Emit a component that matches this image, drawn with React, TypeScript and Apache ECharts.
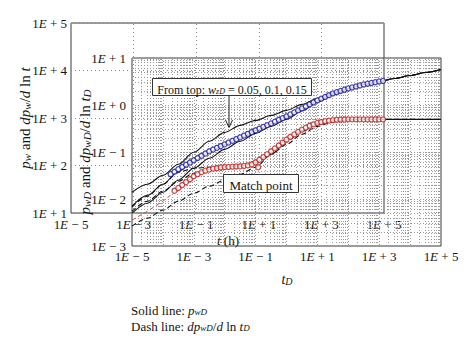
import React, { useEffect, useRef } from 'react';
import * as echarts from 'echarts';

// ---------- data (dimensionless type curves, inner axes) ----------
const TD_CURVE = [1e-5, 3.16e-5, 1e-4, 3.16e-4, 1e-3, 3.16e-3, 0.01, 0.0316, 0.1, 0.316, 1, 3.16, 10, 31.6, 100, 316, 1000, 3160, 1e4, 3.16e4, 1e5];
const PWD_W005 = [0.0139, 0.0206, 0.032, 0.0548, 0.0986, 0.169, 0.262, 0.369, 0.471, 0.601, 0.768, 1.03, 1.38, 1.81, 2.25, 2.74, 3.17, 3.67, 4.25, 4.92, 5.7];
const PWD_W010 = [0.00703, 0.012, 0.0206, 0.0389, 0.0635, 0.0986, 0.142, 0.2, 0.282, 0.397, 0.559, 0.826, 1.22, 1.72, 2.25, 2.74, 3.17, 3.67, 4.25, 4.92, 5.7];
const PWD_W015 = [0.005, 0.00815, 0.0139, 0.0251, 0.0451, 0.0735, 0.114, 0.169, 0.249, 0.351, 0.494, 0.749, 1.14, 1.64, 2.2, 2.74, 3.17, 3.67, 4.25, 4.92, 5.7];
const DER_W005 = [0.0067, 0.01146, 0.0206, 0.0371, 0.0451, 0.0473, 0.0485, 0.0497, 0.0604, 0.0893, 0.146, 0.238, 0.351, 0.438, 0.483, 0.494, 0.494, 0.494, 0.494, 0.494, 0.494];
const DER_W010 = [0.00551, 0.00898, 0.01465, 0.0239, 0.0353, 0.043, 0.0473, 0.0497, 0.0575, 0.0986, 0.186, 0.289, 0.407, 0.459, 0.487, 0.494, 0.494, 0.494, 0.494, 0.494, 0.494];
const DER_W015 = [0.00265, 0.00391, 0.00578, 0.00898, 0.0133, 0.0187, 0.0251, 0.0336, 0.0473, 0.0893, 0.169, 0.275, 0.387, 0.449, 0.483, 0.494, 0.494, 0.494, 0.494, 0.494, 0.494];

// early red dashed derivative
const EARLY_DER_T = [1e-5, 3.16e-5, 1e-4, 2.37e-4];
const EARLY_DER = [0.00355, 0.00551, 0.00898, 0.014];

// field data matched (pressure, blue)
const FIELD_P_T = [
  1.78e-4, 2.37e-4, 3.16e-4, 4.22e-4, 5.62e-4, 7.5e-4,
  1e-3, 1.33e-3, 1.78e-3, 2.37e-3, 3.16e-3, 4.22e-3, 5.62e-3, 7.5e-3,
  1e-2, 1.33e-2, 1.78e-2, 2.37e-2, 3.16e-2, 4.22e-2, 5.62e-2, 7.5e-2,
  0.1, 0.133, 0.178, 0.237, 0.316, 0.422, 0.562, 0.75,
  1, 1.33, 1.78, 2.37, 3.16, 4.22, 5.62, 7.5,
  10, 13.3, 17.8, 23.7, 31.6, 42.2, 56.2, 75,
  100, 133, 178, 237, 316, 422, 562, 750,
  1000, 1330,
];
const FIELD_P = [
  0.0337, 0.038, 0.043, 0.048, 0.0536, 0.0597,
  0.0667, 0.0745, 0.083, 0.0927, 0.1035, 0.1127, 0.1227, 0.1337,
  0.1455, 0.1585, 0.173, 0.1884, 0.2051, 0.2234, 0.2438, 0.2655,
  0.2891, 0.3148, 0.3428, 0.3733, 0.4064, 0.4426, 0.4831, 0.526,
  0.5728, 0.6321, 0.6966, 0.7683, 0.8472, 0.9344, 1.03, 1.136,
  1.253, 1.365, 1.486, 1.618, 1.762, 1.873, 1.991, 2.116,
  2.249, 2.36, 2.477, 2.606, 2.735, 2.838, 2.944, 3.055,
  3.17, 3.251,
];
// field data matched (derivative, red)
const FIELD_D_T = [
  2.37e-4, 3.16e-4, 4.22e-4, 5.62e-4, 7.5e-4,
  1e-3, 1.33e-3, 1.78e-3, 2.37e-3, 3.16e-3, 4.22e-3, 5.62e-3, 7.5e-3,
  1e-2, 1.33e-2, 1.78e-2, 2.37e-2, 3.16e-2, 4.22e-2, 5.62e-2, 7.5e-2,
  0.1, 0.133, 0.178, 0.237, 0.316, 0.422, 0.562, 0.75,
  1, 1.33, 1.78, 2.37, 3.16, 4.22, 5.62, 7.5,
  10, 13.3, 17.8, 23.7, 31.6, 42.2, 56.2, 75,
  100, 133, 178, 237, 316, 422, 562, 750,
  1000, 1330, 0.121,
];
const FIELD_D = [
  0.01496, 0.01722, 0.01986, 0.02291, 0.02642,
  0.03048, 0.03373, 0.03733, 0.04009, 0.04217, 0.04426, 0.0456, 0.04699,
  0.04775, 0.04819, 0.04875, 0.0492, 0.04966, 0.05047, 0.05188, 0.05433,
  0.06039, 0.06823, 0.0778, 0.08974, 0.1035, 0.1194, 0.1374, 0.1585,
  0.1828, 0.2104, 0.2371, 0.2679, 0.2985, 0.3304, 0.3614, 0.3882,
  0.4169, 0.434, 0.4519, 0.465, 0.4753, 0.4837, 0.4875, 0.4909,
  0.494, 0.494, 0.494, 0.494, 0.494, 0.494, 0.494, 0.494,
  0.494, 0.494, 0.0473,
];

// tick label exponents
const OUTER_X_LABELS = [-5, -3, -1, 1, 3, 5];
const OUTER_Y_LABELS = [1, 2, 3, 4, 5];
const INNER_X_LABELS = [-5, -3, -1, 1, 3, 5];
const INNER_Y_LABELS = [-3, -2, -1, 0, 1];
const OUTER_X_GRID = [-3, -1, 1, 3];

// ---------- styling ----------
const FONT = "'Liberation Serif', 'DejaVu Serif', serif";
const INK = '#151515';
const lg = Math.log10;
const pts = (ts: number[], ps: number[]) => ts.map((t, i) => [lg(t), lg(ps[i])]);

const expText = (e: number) => `{n|1}{i|E}{n| ${e < 0 ? '\u2212' : '+'} ${Math.abs(e)}}`;
const labelRich = {
  n: { fontFamily: FONT, fontSize: 13, color: INK },
  i: { fontFamily: FONT, fontSize: 13, fontStyle: 'italic', color: INK },
};

const textRich = (size: number) => ({
  n: { fontFamily: FONT, fontSize: size, lineHeight: size + 4, verticalAlign: 'bottom', fill: INK },
  i: { fontFamily: FONT, fontSize: size, fontStyle: 'italic', lineHeight: size + 4, verticalAlign: 'bottom', fill: INK },
  s: { fontFamily: FONT, fontSize: Math.round(size * 0.7), fontStyle: 'italic', lineHeight: 10, verticalAlign: 'bottom', fill: INK },
});

const minorX: any[] = [];
for (let e = -5; e < 5; e++) for (let k = 2; k <= 9; k++) minorX.push({ xAxis: e + lg(k) });
const minorY: any[] = [];
for (let e = -3; e < 1; e++) for (let k = 2; k <= 9; k++) minorY.push({ yAxis: e + lg(k) });

const gridLineStyleInner = { type: [1, 2], color: '#9a9a9a', width: 1 };
const gridLineStyleOuter = { type: [1, 3], color: '#8c8c8c', width: 1 };

const axisCommon = {
  type: 'value',
  interval: 1,
  axisLine: { show: false },
  axisTick: { show: false },
};

const curve = (ps: number[], dashed: boolean) => ({
  type: 'line',
  xAxisIndex: 1,
  yAxisIndex: 1,
  data: pts(TD_CURVE, ps),
  symbol: 'none',
  smooth: 0.3,
  smoothMonotone: 'x',
  silent: true,
  z: 3,
  lineStyle: { color: '#111', width: 1.1, type: dashed ? [5, 3] : 'solid' },
});

const option: any = {
  animation: false,
  backgroundColor: '#fff',
  grid: [
    { left: 71, top: 23, width: 313, height: 190, show: true, borderColor: '#3a3a3a', borderWidth: 1, backgroundColor: 'transparent' },
    { left: 132, top: 58, width: 309, height: 188, show: true, borderColor: '#3a3a3a', borderWidth: 1, backgroundColor: 'transparent' },
  ],
  xAxis: [
    {
      ...axisCommon, gridIndex: 0, min: -5, max: 5,
      splitLine: { show: false },
      axisLabel: { margin: 5, formatter: (v: number) => (OUTER_X_LABELS.includes(Math.round(v)) ? expText(Math.round(v)) : ''), rich: labelRich },
    },
    {
      ...axisCommon, gridIndex: 1, min: -5, max: 5,
      splitLine: { show: true, lineStyle: gridLineStyleInner },
      axisLabel: { margin: 4, formatter: (v: number) => (INNER_X_LABELS.includes(Math.round(v)) ? expText(Math.round(v)) : ''), rich: labelRich },
    },
  ],
  yAxis: [
    {
      ...axisCommon, gridIndex: 0, min: 1, max: 5,
      splitLine: { show: true, lineStyle: gridLineStyleOuter },
      axisLabel: { margin: 4, formatter: (v: number) => (OUTER_Y_LABELS.includes(Math.round(v)) ? expText(Math.round(v)) : ''), rich: labelRich },
    },
    {
      ...axisCommon, gridIndex: 1, min: -3, max: 1,
      splitLine: { show: true, lineStyle: gridLineStyleInner },
      axisLabel: { margin: 6, formatter: (v: number) => (INNER_Y_LABELS.includes(Math.round(v)) ? expText(Math.round(v)) : ''), rich: labelRich },
    },
  ],
  series: [
    {
      type: 'line', xAxisIndex: 0, yAxisIndex: 0, data: [], silent: true, z: 1,
      markLine: { z: 1, silent: true, symbol: 'none', label: { show: false }, lineStyle: gridLineStyleOuter, emphasis: { disabled: true }, data: OUTER_X_GRID.map((e) => ({ xAxis: e })) },
    },
    {
      type: 'line', xAxisIndex: 1, yAxisIndex: 1, data: [], silent: true, z: 1,
      markLine: { z: 1, silent: true, symbol: 'none', label: { show: false }, lineStyle: gridLineStyleInner, emphasis: { disabled: true }, data: [...minorX, ...minorY] },
    },
    curve(PWD_W005, false),
    curve(PWD_W010, false),
    curve(PWD_W015, false),
    curve(DER_W005, true),
    curve(DER_W010, true),
    curve(DER_W015, true),
    {
      type: 'line', xAxisIndex: 1, yAxisIndex: 1, data: pts(EARLY_DER_T, EARLY_DER), symbol: 'none', silent: true, z: 3,
      lineStyle: { color: '#d04848', width: 1, type: [4, 3] },
    },
    {
      type: 'scatter', xAxisIndex: 1, yAxisIndex: 1, data: pts(FIELD_P_T, FIELD_P), symbol: 'circle', symbolSize: 5, silent: true, z: 4,
      itemStyle: { color: '#ffffff', borderColor: '#1c1ca6', borderWidth: 1.3 },
    },
    {
      type: 'scatter', xAxisIndex: 1, yAxisIndex: 1, data: pts(FIELD_D_T, FIELD_D), symbol: 'circle', symbolSize: 5, silent: true, z: 4,
      itemStyle: { color: '#ffffff', borderColor: '#c41e1e', borderWidth: 1.3 },
    },
  ],
  graphic: [
    { type: 'text', x: 23, y: 118, rotation: Math.PI / 2, z: 100,
      style: { text: '{i|p}{s|w}{n| and }{i|dp}{s|w}{n|/}{i|d}{n| ln }{i|t}', rich: textRich(15), align: 'center', verticalAlign: 'middle', fill: INK } },
    { type: 'text', x: 83, y: 152, rotation: Math.PI / 2, z: 100,
      style: { text: '{i|p}{s|wD}{n| and }{i|dp}{s|wD}{n|/}{i|d}{n| ln }{i|t}{s|D}', rich: textRich(15), align: 'center', verticalAlign: 'middle', fill: INK } },
    { type: 'text', x: 228, y: 238, z: 100,
      style: { text: '{i|t}{n| (h)}', rich: textRich(13), align: 'center', verticalAlign: 'middle', fill: INK } },
    { type: 'text', x: 287, y: 277, z: 100,
      style: { text: '{i|t}{s|D}', rich: textRich(14), align: 'center', verticalAlign: 'middle', fill: INK } },
    { type: 'rect', z: 99, shape: { x: 152.5, y: 78.5, width: 159, height: 17 }, style: { fill: '#fff', stroke: '#333', lineWidth: 1 } },
    { type: 'text', x: 232, y: 87.5, z: 100,
      style: { text: '{n|From top: }{i|w}{s|zD}{n| = 0.05, 0.1, 0.15}', rich: textRich(12), align: 'center', verticalAlign: 'middle', fill: INK } },
    { type: 'line', z: 100, shape: { x1: 229, y1: 96, x2: 229, y2: 127 }, style: { stroke: '#222', lineWidth: 1 } },
    { type: 'polyline', z: 100, shape: { points: [[225.5, 120], [229, 127.5], [232.5, 120]] }, style: { stroke: '#222', lineWidth: 1, fill: 'none' } },
    { type: 'rect', z: 99, shape: { x: 223.5, y: 174.5, width: 75, height: 18 }, style: { fill: '#fff', stroke: '#333', lineWidth: 1 } },
    { type: 'text', x: 261, y: 183.5, z: 100,
      style: { text: '{n|Match point}', rich: textRich(13), align: 'center', verticalAlign: 'middle', fill: INK } },
    { type: 'text', x: 131, y: 308, z: 100,
      style: { text: '{n|Solid line: }{i|p}{s|wD}', rich: textRich(13), align: 'left', verticalAlign: 'middle', fill: INK } },
    { type: 'text', x: 131, y: 324, z: 100,
      style: { text: '{n|Dash line: }{i|dp}{s|wD}{n|/}{i|d}{n| ln }{i|t}{s|D}', rich: textRich(13), align: 'left', verticalAlign: 'middle', fill: INK } },
  ],
};

export default function App() {
  const ref = useRef<HTMLDivElement>(null);
  useEffect(() => {
    const chart = echarts.init(ref.current as HTMLDivElement, undefined, { renderer: 'svg' });
    chart.setOption(option);
    return () => chart.dispose();
  }, []);
  return <div ref={ref} style={{ position: 'fixed', left: 0, top: 0, width: 474, height: 351, background: '#fff' }} />;
}
